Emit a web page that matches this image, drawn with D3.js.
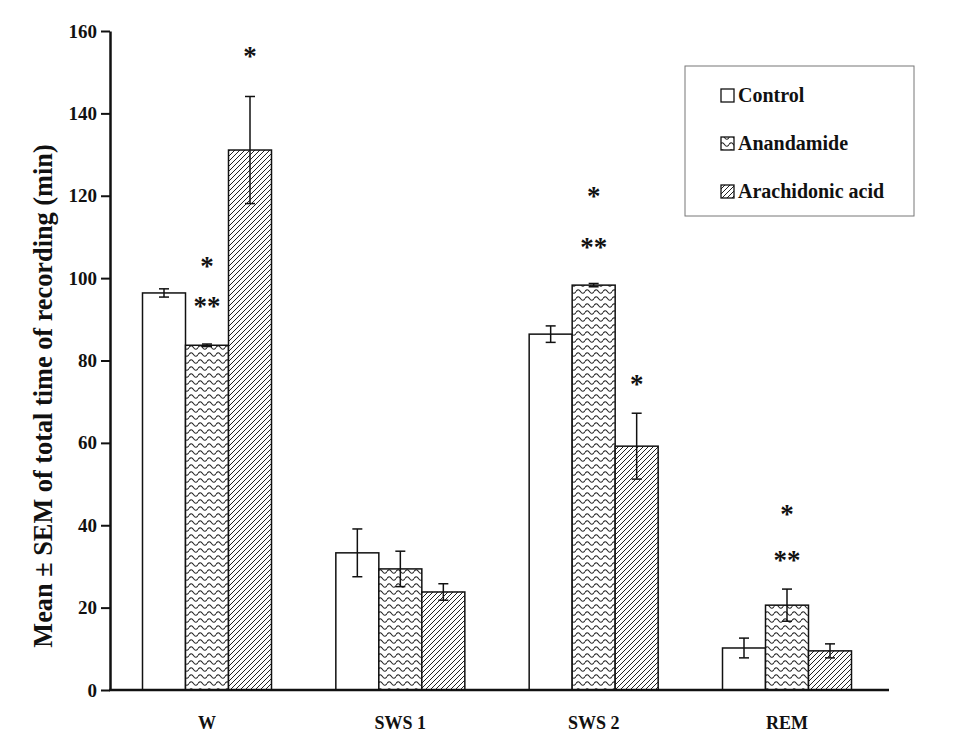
<!DOCTYPE html>
<html>
<head>
<meta charset="utf-8">
<script src="https://cdn.jsdelivr.net/npm/d3@7"></script>
<style>
  body { margin: 0; background: #fff; }
</style>
</head>
<body>
<svg id="chart" width="960" height="739"></svg>
<script>
// groups on the x axis
const stages = ['W', 'SWS 1', 'SWS 2', 'REM'];
const treatments = ['Control', 'Anandamide', 'Arachidonic acid'];

// mean values per treatment, in stage order
const controlMean = [96.4, 33.3, 86.4, 10.2];
const anandamideMean = [83.7, 29.4, 98.3, 20.6];
const arachidonicMean = [131.1, 23.8, 59.2, 9.5];

// SEM per treatment
const controlSem = [1.0, 5.8, 2.0, 2.4];
const anandamideSem = [0.3, 4.3, 0.4, 3.9];
const arachidonicSem = [13.0, 2.0, 8.0, 1.7];

// significance marks: stage, treatment, label, level (data units)
const marks = [
  ['W', 'Anandamide', '*', 103.9],
  ['W', 'Anandamide', '**', 94.2],
  ['W', 'Arachidonic acid', '*', 154.9],
  ['SWS 2', 'Anandamide', '*', 120.9],
  ['SWS 2', 'Anandamide', '**', 108.5],
  ['SWS 2', 'Arachidonic acid', '*', 75.2],
  ['REM', 'Anandamide', '*', 43.7],
  ['REM', 'Anandamide', '**', 32.5]
];

const yTicks = [0, 20, 40, 60, 80, 100, 120, 140, 160];

const means = [controlMean, anandamideMean, arachidonicMean];
const sems = [controlSem, anandamideSem, arachidonicSem];
const rows = [];
treatments.forEach((t, i) => {
  stages.forEach((s, j) => {
    rows.push({ stage: s, treatment: t, mean: means[i][j], sem: sems[i][j] });
  });
});

const serif = '"Liberation Serif"';
const ink = '#111';
const svg = d3.select('#chart');

// apply the Times-like bold face inline
function times(sel, size) {
  return sel.style('font-family', serif)
    .style('font-weight', 'bold')
    .style('font-size', size + 'px')
    .style('fill', ink);
}

// patterns
const defs = svg.append('defs');
const wave = defs.append('pattern')
  .attr('id', 'wave')
  .attr('patternUnits', 'userSpaceOnUse')
  .attr('width', 9).attr('height', 7);
wave.append('rect').attr('width', 9).attr('height', 7).attr('fill', '#fff');
wave.append('path')
  .attr('d', 'M0,4.5 Q2.25,1 4.5,4.5 T9,4.5')
  .attr('fill', 'none').attr('stroke', '#222').attr('stroke-width', 1.1);

const hatch = defs.append('pattern')
  .attr('id', 'hatch')
  .attr('patternUnits', 'userSpaceOnUse')
  .attr('width', 5).attr('height', 5);
hatch.append('rect').attr('width', 5).attr('height', 5).attr('fill', '#fff');
hatch.append('path')
  .attr('d', 'M0,5 L5,0 M-1.25,1.25 L1.25,-1.25 M3.75,6.25 L6.25,3.75')
  .attr('stroke', '#222').attr('stroke-width', 1);

const fills = { 'Control': '#fff', 'Anandamide': 'url(#wave)', 'Arachidonic acid': 'url(#hatch)' };

// scales
const x0 = d3.scalePoint().domain(stages).range([207, 787]);
const x1 = d3.scaleBand().domain(treatments).range([-64.5, 64.5]);
const y = d3.scaleLinear().domain([0, 160]).range([690, 31]);

// bars
svg.append('g')
  .selectAll('rect')
  .data(rows)
  .join('rect')
  .attr('x', d => x0(d.stage) + x1(d.treatment))
  .attr('y', d => y(d.mean))
  .attr('width', x1.bandwidth())
  .attr('height', d => y(0) - y(d.mean))
  .attr('fill', d => fills[d.treatment])
  .attr('stroke', ink)
  .attr('stroke-width', 1.5);

// error bars
const err = svg.append('g').attr('stroke', ink).attr('stroke-width', 1.5);
rows.forEach(d => {
  const cx = x0(d.stage) + x1(d.treatment) + x1.bandwidth() / 2;
  const top = y(d.mean + d.sem), bot = y(d.mean - d.sem);
  err.append('line').attr('x1', cx).attr('x2', cx).attr('y1', top).attr('y2', bot);
  err.append('line').attr('x1', cx - 5).attr('x2', cx + 5).attr('y1', top).attr('y2', top);
  err.append('line').attr('x1', cx - 5).attr('x2', cx + 5).attr('y1', bot).attr('y2', bot);
});

// significance marks
svg.append('g')
  .selectAll('text')
  .data(marks)
  .join('text')
  .attr('x', d => x0(d[0]) + x1(d[1]) + x1.bandwidth() / 2)
  .attr('y', d => y(d[3]) + 13)
  .attr('text-anchor', 'middle')
  .call(times, 27)
  .text(d => d[2]);

// y axis
const yAxis = svg.append('g')
  .attr('transform', 'translate(110,0)')
  .call(d3.axisLeft(y).tickValues(yTicks).tickSize(9).tickPadding(4).tickSizeOuter(0));
yAxis.select('.domain').attr('stroke', ink).attr('stroke-width', 2.5);
yAxis.selectAll('.tick line').attr('stroke', ink).attr('stroke-width', 2);
yAxis.selectAll('.tick text').call(times, 19);

// x axis line
svg.append('line')
  .attr('x1', 109).attr('x2', 889)
  .attr('y1', y(0)).attr('y2', y(0))
  .attr('stroke', ink).attr('stroke-width', 2.5);

// x labels
svg.append('g')
  .selectAll('text')
  .data(stages)
  .join('text')
  .attr('x', d => x0(d))
  .attr('y', 729)
  .attr('text-anchor', 'middle')
  .call(times, 18)
  .text(d => d);

// y label, sized so it spans the same length as the original
const yLabel = svg.append('text')
  .attr('transform', 'translate(52,396) rotate(-90)')
  .attr('text-anchor', 'middle')
  .call(times, 20)
  .text('Mean \u00b1 SEM of total time of recording (min)');
const labLen = yLabel.node().getComputedTextLength();
yLabel.style('font-size', (20 * 504 / labLen).toFixed(1) + 'px');

// legend
const legend = svg.append('g');
legend.append('rect')
  .attr('x', 685).attr('y', 66).attr('width', 229).attr('height', 150)
  .attr('fill', '#fff').attr('stroke', '#777').attr('stroke-width', 1);
treatments.forEach((t, i) => {
  const ly = 95 + i * 48;
  legend.append('rect')
    .attr('x', 721).attr('y', ly - 6).attr('width', 13).attr('height', 13)
    .attr('fill', fills[t]).attr('stroke', ink).attr('stroke-width', 1.3);
  legend.append('text')
    .attr('x', 738).attr('y', ly + 7)
    .call(times, 20)
    .text(t);
});
</script>
</body>
</html>
